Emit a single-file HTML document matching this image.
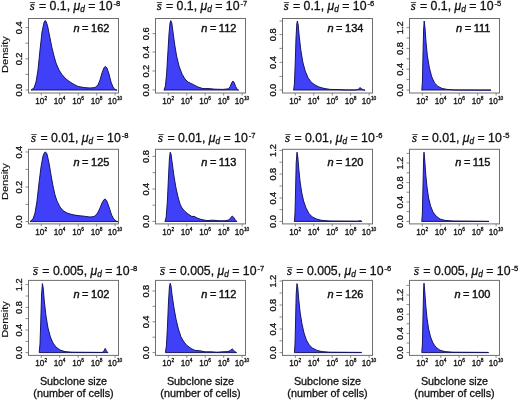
<!DOCTYPE html><html><head><meta charset="utf-8"><title>Subclone size density</title>
<style>html,body{margin:0;padding:0;background:#fff;}svg{display:block;}text{font-family:"Liberation Sans",Arial,sans-serif;fill:#111;stroke:#111;stroke-width:0.3px;}.it{font-style:italic;}.ser{font-family:"Liberation Serif","Times New Roman",serif;font-style:italic;}</style></head><body>
<svg width="520" height="400" viewBox="0 0 520 400">
<rect width="520" height="400" fill="#fff"/>
<g><path d="M31,90 L31,90 L34,88 L36,82 L38,70 L40,50 L42,32 L44,22.4 L45,20.6 L46,21.2 L47.6,26 L50,38 L52,48 L54,56 L56,63 L59,70 L62,74.6 L66,79 L70,82 L74,84.4 L78,86.4 L84,87.6 L90,88 L95,87.6 L98,85 L100,80 L102,73 L104,67.6 L105.4,66.4 L107,68 L109,74 L111,82 L113,87 L115,89.6 L117,90.2 L117,90 Z" fill="#4040f8" stroke="#10105c" stroke-width="0.95" stroke-linejoin="round"/><rect x="28.5" y="18.5" width="90" height="74.5" fill="none" stroke="#6e6e6e" stroke-width="1"/><line x1="41.3" y1="93" x2="41.3" y2="95.5" stroke="#6e6e6e" stroke-width="0.8"/><text x="41.2" y="103.5" font-size="8.2" text-anchor="middle">10<tspan dy="-3.7" font-size="4.8">2</tspan></text><line x1="59.75" y1="93" x2="59.75" y2="95.5" stroke="#6e6e6e" stroke-width="0.8"/><text x="59.65" y="103.5" font-size="8.2" text-anchor="middle">10<tspan dy="-3.7" font-size="4.8">4</tspan></text><line x1="78.2" y1="93" x2="78.2" y2="95.5" stroke="#6e6e6e" stroke-width="0.8"/><text x="78.1" y="103.5" font-size="8.2" text-anchor="middle">10<tspan dy="-3.7" font-size="4.8">6</tspan></text><line x1="96.65" y1="93" x2="96.65" y2="95.5" stroke="#6e6e6e" stroke-width="0.8"/><text x="96.55" y="103.5" font-size="8.2" text-anchor="middle">10<tspan dy="-3.7" font-size="4.8">8</tspan></text><line x1="115.1" y1="93" x2="115.1" y2="95.5" stroke="#6e6e6e" stroke-width="0.8"/><text x="115" y="103.5" font-size="8.2" text-anchor="middle">10<tspan dy="-3.7" font-size="4.8">10</tspan></text><line x1="25.5" y1="90" x2="28.5" y2="90" stroke="#6e6e6e" stroke-width="0.8"/><text transform="translate(21.8,90.2) rotate(-90) scale(1.12,1)" font-size="8.2" text-anchor="middle">0.0</text><line x1="25.5" y1="74.4" x2="28.5" y2="74.4" stroke="#6e6e6e" stroke-width="0.8"/><line x1="25.5" y1="58.8" x2="28.5" y2="58.8" stroke="#6e6e6e" stroke-width="0.8"/><text transform="translate(21.8,59) rotate(-90) scale(1.12,1)" font-size="8.2" text-anchor="middle">0.2</text><line x1="25.5" y1="43.2" x2="28.5" y2="43.2" stroke="#6e6e6e" stroke-width="0.8"/><line x1="25.5" y1="27.6" x2="28.5" y2="27.6" stroke="#6e6e6e" stroke-width="0.8"/><text transform="translate(21.8,27.8) rotate(-90) scale(1.12,1)" font-size="8.2" text-anchor="middle">0.4</text><text transform="translate(29.7,10) scale(1.0,1)" font-size="12.3" text-anchor="start"><tspan class="ser" font-size="12.8">s</tspan><tspan dx="0.9"> </tspan>= 0.1, <tspan class="it">μ</tspan><tspan class="it" font-size="8.2" dy="2.2">d</tspan><tspan dy="-2.2"> = 10</tspan><tspan font-size="7.6" dy="-4.4" dx="1">-8</tspan></text><text x="32.5" y="8.7" font-size="9" text-anchor="middle" class="mac">¯</text><text transform="translate(109.4,32.3) scale(1.07,1)" font-size="10.3" text-anchor="end" word-spacing="-0.5" style="stroke-width:0.4px"><tspan class="it">n</tspan> = 162</text><text transform="translate(7.5,54.6) rotate(-90) scale(1.16,1)" font-size="9.5" text-anchor="middle" style="stroke-width:0.15px">Density</text></g>
<g><path d="M164,90 L164,90.2 L165.4,86 L166.6,74 L167.8,54 L169,34 L170,23 L170.8,20.6 L171.8,23 L173,32 L174.6,44 L176.6,56 L179,66 L182,74 L185,79 L188,82 L193,84.4 L198,87 L203,88.6 L209,88.6 L215,89.2 L223,89.4 L228.6,88.8 L230.2,86.4 L231.8,82.6 L233,81 L234.2,82.6 L235.6,86.4 L237.2,89.4 L238.6,90.2 L238.6,90 Z" fill="#4040f8" stroke="#10105c" stroke-width="0.95" stroke-linejoin="round"/><rect x="155.5" y="18.5" width="90" height="74.5" fill="none" stroke="#6e6e6e" stroke-width="1"/><line x1="168.3" y1="93" x2="168.3" y2="95.5" stroke="#6e6e6e" stroke-width="0.8"/><text x="168.2" y="103.5" font-size="8.2" text-anchor="middle">10<tspan dy="-3.7" font-size="4.8">2</tspan></text><line x1="186.75" y1="93" x2="186.75" y2="95.5" stroke="#6e6e6e" stroke-width="0.8"/><text x="186.65" y="103.5" font-size="8.2" text-anchor="middle">10<tspan dy="-3.7" font-size="4.8">4</tspan></text><line x1="205.2" y1="93" x2="205.2" y2="95.5" stroke="#6e6e6e" stroke-width="0.8"/><text x="205.1" y="103.5" font-size="8.2" text-anchor="middle">10<tspan dy="-3.7" font-size="4.8">6</tspan></text><line x1="223.65" y1="93" x2="223.65" y2="95.5" stroke="#6e6e6e" stroke-width="0.8"/><text x="223.55" y="103.5" font-size="8.2" text-anchor="middle">10<tspan dy="-3.7" font-size="4.8">8</tspan></text><line x1="242.1" y1="93" x2="242.1" y2="95.5" stroke="#6e6e6e" stroke-width="0.8"/><text x="242" y="103.5" font-size="8.2" text-anchor="middle">10<tspan dy="-3.7" font-size="4.8">10</tspan></text><line x1="152.5" y1="90" x2="155.5" y2="90" stroke="#6e6e6e" stroke-width="0.8"/><text transform="translate(148.8,90.2) rotate(-90) scale(1.12,1)" font-size="8.2" text-anchor="middle">0.0</text><line x1="152.5" y1="71" x2="155.5" y2="71" stroke="#6e6e6e" stroke-width="0.8"/><text transform="translate(148.8,71.2) rotate(-90) scale(1.12,1)" font-size="8.2" text-anchor="middle">0.2</text><line x1="152.5" y1="52" x2="155.5" y2="52" stroke="#6e6e6e" stroke-width="0.8"/><text transform="translate(148.8,52.2) rotate(-90) scale(1.12,1)" font-size="8.2" text-anchor="middle">0.4</text><line x1="152.5" y1="33.6" x2="155.5" y2="33.6" stroke="#6e6e6e" stroke-width="0.8"/><text transform="translate(148.8,33.8) rotate(-90) scale(1.12,1)" font-size="8.2" text-anchor="middle">0.6</text><text transform="translate(156.7,10) scale(1.0,1)" font-size="12.3" text-anchor="start"><tspan class="ser" font-size="12.8">s</tspan><tspan dx="0.9"> </tspan>= 0.1, <tspan class="it">μ</tspan><tspan class="it" font-size="8.2" dy="2.2">d</tspan><tspan dy="-2.2"> = 10</tspan><tspan font-size="7.6" dy="-4.4" dx="1">-7</tspan></text><text x="159.5" y="8.7" font-size="9" text-anchor="middle" class="mac">¯</text><text transform="translate(236.4,32.3) scale(1.07,1)" font-size="10.3" text-anchor="end" word-spacing="-0.5" style="stroke-width:0.4px"><tspan class="it">n</tspan> = 112</text></g>
<g><path d="M293.6,90 L293.6,90.2 L294.4,84 L295.2,64 L296,38 L296.8,24 L297.4,21 L298.2,25 L299.2,36 L300.8,50 L302.8,62 L305.2,71 L308,77.6 L311,82 L315,85 L319,87 L324,88.4 L330,89.4 L338,89.6 L346,90 L356,90 L358.4,89.2 L360,87.6 L361.6,88.8 L363.6,90 L365,90.2 L365,90 Z" fill="#4040f8" stroke="#10105c" stroke-width="0.95" stroke-linejoin="round"/><rect x="282.5" y="18.5" width="90" height="74.5" fill="none" stroke="#6e6e6e" stroke-width="1"/><line x1="295.3" y1="93" x2="295.3" y2="95.5" stroke="#6e6e6e" stroke-width="0.8"/><text x="295.2" y="103.5" font-size="8.2" text-anchor="middle">10<tspan dy="-3.7" font-size="4.8">2</tspan></text><line x1="313.75" y1="93" x2="313.75" y2="95.5" stroke="#6e6e6e" stroke-width="0.8"/><text x="313.65" y="103.5" font-size="8.2" text-anchor="middle">10<tspan dy="-3.7" font-size="4.8">4</tspan></text><line x1="332.2" y1="93" x2="332.2" y2="95.5" stroke="#6e6e6e" stroke-width="0.8"/><text x="332.1" y="103.5" font-size="8.2" text-anchor="middle">10<tspan dy="-3.7" font-size="4.8">6</tspan></text><line x1="350.65" y1="93" x2="350.65" y2="95.5" stroke="#6e6e6e" stroke-width="0.8"/><text x="350.55" y="103.5" font-size="8.2" text-anchor="middle">10<tspan dy="-3.7" font-size="4.8">8</tspan></text><line x1="369.1" y1="93" x2="369.1" y2="95.5" stroke="#6e6e6e" stroke-width="0.8"/><text x="369" y="103.5" font-size="8.2" text-anchor="middle">10<tspan dy="-3.7" font-size="4.8">10</tspan></text><line x1="279.5" y1="90" x2="282.5" y2="90" stroke="#6e6e6e" stroke-width="0.8"/><text transform="translate(275.8,90.2) rotate(-90) scale(1.12,1)" font-size="8.2" text-anchor="middle">0.0</text><line x1="279.5" y1="76.4" x2="282.5" y2="76.4" stroke="#6e6e6e" stroke-width="0.8"/><line x1="279.5" y1="62.4" x2="282.5" y2="62.4" stroke="#6e6e6e" stroke-width="0.8"/><text transform="translate(275.8,62.6) rotate(-90) scale(1.12,1)" font-size="8.2" text-anchor="middle">0.4</text><line x1="279.5" y1="48.4" x2="282.5" y2="48.4" stroke="#6e6e6e" stroke-width="0.8"/><line x1="279.5" y1="34.6" x2="282.5" y2="34.6" stroke="#6e6e6e" stroke-width="0.8"/><text transform="translate(275.8,34.8) rotate(-90) scale(1.12,1)" font-size="8.2" text-anchor="middle">0.8</text><line x1="279.5" y1="21" x2="282.5" y2="21" stroke="#6e6e6e" stroke-width="0.8"/><text transform="translate(283.7,10) scale(1.0,1)" font-size="12.3" text-anchor="start"><tspan class="ser" font-size="12.8">s</tspan><tspan dx="0.9"> </tspan>= 0.1, <tspan class="it">μ</tspan><tspan class="it" font-size="8.2" dy="2.2">d</tspan><tspan dy="-2.2"> = 10</tspan><tspan font-size="7.6" dy="-4.4" dx="1">-6</tspan></text><text x="286.5" y="8.7" font-size="9" text-anchor="middle" class="mac">¯</text><text transform="translate(363.4,32.3) scale(1.07,1)" font-size="10.3" text-anchor="end" word-spacing="-0.5" style="stroke-width:0.4px"><tspan class="it">n</tspan> = 134</text></g>
<g><path d="M421.8,90 L421.8,90.2 L422.4,82 L423,54 L423.6,30 L424.2,21 L425,28 L426,42 L427.4,56 L429.4,68 L431.8,77 L434.6,83 L438,86.4 L442,88.4 L447,89.4 L455,90 L491,90.2 L491,90 Z" fill="#4040f8" stroke="#10105c" stroke-width="0.95" stroke-linejoin="round"/><rect x="409.5" y="18.5" width="90" height="74.5" fill="none" stroke="#6e6e6e" stroke-width="1"/><line x1="422.3" y1="93" x2="422.3" y2="95.5" stroke="#6e6e6e" stroke-width="0.8"/><text x="422.2" y="103.5" font-size="8.2" text-anchor="middle">10<tspan dy="-3.7" font-size="4.8">2</tspan></text><line x1="440.75" y1="93" x2="440.75" y2="95.5" stroke="#6e6e6e" stroke-width="0.8"/><text x="440.65" y="103.5" font-size="8.2" text-anchor="middle">10<tspan dy="-3.7" font-size="4.8">4</tspan></text><line x1="459.2" y1="93" x2="459.2" y2="95.5" stroke="#6e6e6e" stroke-width="0.8"/><text x="459.1" y="103.5" font-size="8.2" text-anchor="middle">10<tspan dy="-3.7" font-size="4.8">6</tspan></text><line x1="477.65" y1="93" x2="477.65" y2="95.5" stroke="#6e6e6e" stroke-width="0.8"/><text x="477.55" y="103.5" font-size="8.2" text-anchor="middle">10<tspan dy="-3.7" font-size="4.8">8</tspan></text><line x1="496.1" y1="93" x2="496.1" y2="95.5" stroke="#6e6e6e" stroke-width="0.8"/><text x="496" y="103.5" font-size="8.2" text-anchor="middle">10<tspan dy="-3.7" font-size="4.8">10</tspan></text><line x1="406.5" y1="90" x2="409.5" y2="90" stroke="#6e6e6e" stroke-width="0.8"/><text transform="translate(402.8,90.2) rotate(-90) scale(1.12,1)" font-size="8.2" text-anchor="middle">0.0</text><line x1="406.5" y1="79.6" x2="409.5" y2="79.6" stroke="#6e6e6e" stroke-width="0.8"/><line x1="406.5" y1="69.2" x2="409.5" y2="69.2" stroke="#6e6e6e" stroke-width="0.8"/><text transform="translate(402.8,69.4) rotate(-90) scale(1.12,1)" font-size="8.2" text-anchor="middle">0.4</text><line x1="406.5" y1="58.8" x2="409.5" y2="58.8" stroke="#6e6e6e" stroke-width="0.8"/><line x1="406.5" y1="48.4" x2="409.5" y2="48.4" stroke="#6e6e6e" stroke-width="0.8"/><text transform="translate(402.8,48.6) rotate(-90) scale(1.12,1)" font-size="8.2" text-anchor="middle">0.8</text><line x1="406.5" y1="38" x2="409.5" y2="38" stroke="#6e6e6e" stroke-width="0.8"/><line x1="406.5" y1="27.6" x2="409.5" y2="27.6" stroke="#6e6e6e" stroke-width="0.8"/><text transform="translate(402.8,27.8) rotate(-90) scale(1.12,1)" font-size="8.2" text-anchor="middle">1.2</text><text transform="translate(410.7,10) scale(1.0,1)" font-size="12.3" text-anchor="start"><tspan class="ser" font-size="12.8">s</tspan><tspan dx="0.9"> </tspan>= 0.1, <tspan class="it">μ</tspan><tspan class="it" font-size="8.2" dy="2.2">d</tspan><tspan dy="-2.2"> = 10</tspan><tspan font-size="7.6" dy="-4.4" dx="1">-5</tspan></text><text x="413.5" y="8.7" font-size="9" text-anchor="middle" class="mac">¯</text><text transform="translate(490.4,32.3) scale(1.07,1)" font-size="10.3" text-anchor="end" word-spacing="-0.5" style="stroke-width:0.4px"><tspan class="it">n</tspan> = 111</text></g>
<g><path d="M30,221.6 L30,221.6 L33,219 L35,213 L37,201 L39,183 L41,167 L43,156 L44.6,152.4 L45.6,152 L47,154 L49,163 L51,175 L53,186 L55,195 L57,201 L60,207 L63,210.6 L67,213 L72,214.6 L78,215.6 L84,216.2 L90,217 L94,216.6 L97,214 L99.6,209 L102,203 L104,199.6 L105.2,199 L106.8,201 L109,207 L111.6,215 L114,219.4 L116.4,221.2 L118,221.6 L118,221.6 Z" fill="#4040f8" stroke="#10105c" stroke-width="0.95" stroke-linejoin="round"/><rect x="28.5" y="149.3" width="90" height="74.6" fill="none" stroke="#6e6e6e" stroke-width="1"/><line x1="41.3" y1="223.9" x2="41.3" y2="226.4" stroke="#6e6e6e" stroke-width="0.8"/><text x="41.2" y="235" font-size="8.2" text-anchor="middle">10<tspan dy="-3.7" font-size="4.8">2</tspan></text><line x1="59.75" y1="223.9" x2="59.75" y2="226.4" stroke="#6e6e6e" stroke-width="0.8"/><text x="59.65" y="235" font-size="8.2" text-anchor="middle">10<tspan dy="-3.7" font-size="4.8">4</tspan></text><line x1="78.2" y1="223.9" x2="78.2" y2="226.4" stroke="#6e6e6e" stroke-width="0.8"/><text x="78.1" y="235" font-size="8.2" text-anchor="middle">10<tspan dy="-3.7" font-size="4.8">6</tspan></text><line x1="96.65" y1="223.9" x2="96.65" y2="226.4" stroke="#6e6e6e" stroke-width="0.8"/><text x="96.55" y="235" font-size="8.2" text-anchor="middle">10<tspan dy="-3.7" font-size="4.8">8</tspan></text><line x1="115.1" y1="223.9" x2="115.1" y2="226.4" stroke="#6e6e6e" stroke-width="0.8"/><text x="115" y="235" font-size="8.2" text-anchor="middle">10<tspan dy="-3.7" font-size="4.8">10</tspan></text><line x1="25.5" y1="221.6" x2="28.5" y2="221.6" stroke="#6e6e6e" stroke-width="0.8"/><text transform="translate(21.8,221.8) rotate(-90) scale(1.12,1)" font-size="8.2" text-anchor="middle">0.0</text><line x1="25.5" y1="204.4" x2="28.5" y2="204.4" stroke="#6e6e6e" stroke-width="0.8"/><line x1="25.5" y1="187" x2="28.5" y2="187" stroke="#6e6e6e" stroke-width="0.8"/><text transform="translate(21.8,187.2) rotate(-90) scale(1.12,1)" font-size="8.2" text-anchor="middle">0.2</text><line x1="25.5" y1="169.4" x2="28.5" y2="169.4" stroke="#6e6e6e" stroke-width="0.8"/><line x1="25.5" y1="152" x2="28.5" y2="152" stroke="#6e6e6e" stroke-width="0.8"/><text transform="translate(21.8,152.2) rotate(-90) scale(1.12,1)" font-size="8.2" text-anchor="middle">0.4</text><text transform="translate(31.1,141.9) scale(1.0,1)" font-size="12.3" text-anchor="start"><tspan class="ser" font-size="12.8">s</tspan><tspan dx="0.9"> </tspan>= 0.01, <tspan class="it">μ</tspan><tspan class="it" font-size="8.2" dy="2.2">d</tspan><tspan dy="-2.2"> = 10</tspan><tspan font-size="7.6" dy="-4.4" dx="1">-8</tspan></text><text x="33.9" y="140.6" font-size="9" text-anchor="middle" class="mac">¯</text><text transform="translate(109.4,166.3) scale(1.07,1)" font-size="10.3" text-anchor="end" word-spacing="-0.5" style="stroke-width:0.4px"><tspan class="it">n</tspan> = 125</text><text transform="translate(7.5,181.7) rotate(-90) scale(1.16,1)" font-size="9.5" text-anchor="middle" style="stroke-width:0.15px">Density</text></g>
<g><path d="M165,221.4 L165,221.6 L166.2,217 L167.4,201 L168.4,179 L169.4,159 L170.2,152.2 L171,154 L172.2,163 L173.8,175 L175.8,187 L178,197 L180,204 L182,208 L185,211.4 L188,214 L192,216.6 L194,216.2 L197,218 L201,219.4 L207,220.6 L213,220.2 L219,220.8 L225,220.8 L228.6,220 L230.6,218 L232.2,216 L233.8,217.4 L235.4,220.2 L237,221.6 L237,221.4 Z" fill="#4040f8" stroke="#10105c" stroke-width="0.95" stroke-linejoin="round"/><rect x="155.5" y="149.3" width="90" height="74.6" fill="none" stroke="#6e6e6e" stroke-width="1"/><line x1="168.3" y1="223.9" x2="168.3" y2="226.4" stroke="#6e6e6e" stroke-width="0.8"/><text x="168.2" y="235" font-size="8.2" text-anchor="middle">10<tspan dy="-3.7" font-size="4.8">2</tspan></text><line x1="186.75" y1="223.9" x2="186.75" y2="226.4" stroke="#6e6e6e" stroke-width="0.8"/><text x="186.65" y="235" font-size="8.2" text-anchor="middle">10<tspan dy="-3.7" font-size="4.8">4</tspan></text><line x1="205.2" y1="223.9" x2="205.2" y2="226.4" stroke="#6e6e6e" stroke-width="0.8"/><text x="205.1" y="235" font-size="8.2" text-anchor="middle">10<tspan dy="-3.7" font-size="4.8">6</tspan></text><line x1="223.65" y1="223.9" x2="223.65" y2="226.4" stroke="#6e6e6e" stroke-width="0.8"/><text x="223.55" y="235" font-size="8.2" text-anchor="middle">10<tspan dy="-3.7" font-size="4.8">8</tspan></text><line x1="242.1" y1="223.9" x2="242.1" y2="226.4" stroke="#6e6e6e" stroke-width="0.8"/><text x="242" y="235" font-size="8.2" text-anchor="middle">10<tspan dy="-3.7" font-size="4.8">10</tspan></text><line x1="152.5" y1="221.4" x2="155.5" y2="221.4" stroke="#6e6e6e" stroke-width="0.8"/><text transform="translate(148.8,221.6) rotate(-90) scale(1.12,1)" font-size="8.2" text-anchor="middle">0.0</text><line x1="152.5" y1="205.2" x2="155.5" y2="205.2" stroke="#6e6e6e" stroke-width="0.8"/><line x1="152.5" y1="189" x2="155.5" y2="189" stroke="#6e6e6e" stroke-width="0.8"/><text transform="translate(148.8,189.2) rotate(-90) scale(1.12,1)" font-size="8.2" text-anchor="middle">0.4</text><line x1="152.5" y1="172.6" x2="155.5" y2="172.6" stroke="#6e6e6e" stroke-width="0.8"/><line x1="152.5" y1="156.4" x2="155.5" y2="156.4" stroke="#6e6e6e" stroke-width="0.8"/><text transform="translate(148.8,156.6) rotate(-90) scale(1.12,1)" font-size="8.2" text-anchor="middle">0.8</text><text transform="translate(158.1,141.9) scale(1.0,1)" font-size="12.3" text-anchor="start"><tspan class="ser" font-size="12.8">s</tspan><tspan dx="0.9"> </tspan>= 0.01, <tspan class="it">μ</tspan><tspan class="it" font-size="8.2" dy="2.2">d</tspan><tspan dy="-2.2"> = 10</tspan><tspan font-size="7.6" dy="-4.4" dx="1">-7</tspan></text><text x="160.9" y="140.6" font-size="9" text-anchor="middle" class="mac">¯</text><text transform="translate(236.4,166.3) scale(1.07,1)" font-size="10.3" text-anchor="end" word-spacing="-0.5" style="stroke-width:0.4px"><tspan class="it">n</tspan> = 113</text></g>
<g><path d="M294.4,221.4 L294.4,221.6 L295,213 L295.6,189 L296.2,163 L297,152.2 L297.8,157 L298.8,169 L300,181 L301.6,192 L303.6,201 L306,208 L309,213.6 L312.4,217 L317,219.2 L322,220.4 L330,221 L358,221.2 L360.4,220.6 L362,221.6 L362,221.4 Z" fill="#4040f8" stroke="#10105c" stroke-width="0.95" stroke-linejoin="round"/><rect x="282.5" y="149.3" width="90" height="74.6" fill="none" stroke="#6e6e6e" stroke-width="1"/><line x1="295.3" y1="223.9" x2="295.3" y2="226.4" stroke="#6e6e6e" stroke-width="0.8"/><text x="295.2" y="235" font-size="8.2" text-anchor="middle">10<tspan dy="-3.7" font-size="4.8">2</tspan></text><line x1="313.75" y1="223.9" x2="313.75" y2="226.4" stroke="#6e6e6e" stroke-width="0.8"/><text x="313.65" y="235" font-size="8.2" text-anchor="middle">10<tspan dy="-3.7" font-size="4.8">4</tspan></text><line x1="332.2" y1="223.9" x2="332.2" y2="226.4" stroke="#6e6e6e" stroke-width="0.8"/><text x="332.1" y="235" font-size="8.2" text-anchor="middle">10<tspan dy="-3.7" font-size="4.8">6</tspan></text><line x1="350.65" y1="223.9" x2="350.65" y2="226.4" stroke="#6e6e6e" stroke-width="0.8"/><text x="350.55" y="235" font-size="8.2" text-anchor="middle">10<tspan dy="-3.7" font-size="4.8">8</tspan></text><line x1="369.1" y1="223.9" x2="369.1" y2="226.4" stroke="#6e6e6e" stroke-width="0.8"/><text x="369" y="235" font-size="8.2" text-anchor="middle">10<tspan dy="-3.7" font-size="4.8">10</tspan></text><line x1="279.5" y1="221.4" x2="282.5" y2="221.4" stroke="#6e6e6e" stroke-width="0.8"/><text transform="translate(275.8,221.6) rotate(-90) scale(1.12,1)" font-size="8.2" text-anchor="middle">0.0</text><line x1="279.5" y1="209.6" x2="282.5" y2="209.6" stroke="#6e6e6e" stroke-width="0.8"/><line x1="279.5" y1="198" x2="282.5" y2="198" stroke="#6e6e6e" stroke-width="0.8"/><text transform="translate(275.8,198.2) rotate(-90) scale(1.12,1)" font-size="8.2" text-anchor="middle">0.4</text><line x1="279.5" y1="186" x2="282.5" y2="186" stroke="#6e6e6e" stroke-width="0.8"/><line x1="279.5" y1="174" x2="282.5" y2="174" stroke="#6e6e6e" stroke-width="0.8"/><text transform="translate(275.8,174.2) rotate(-90) scale(1.12,1)" font-size="8.2" text-anchor="middle">0.8</text><line x1="279.5" y1="162.2" x2="282.5" y2="162.2" stroke="#6e6e6e" stroke-width="0.8"/><line x1="279.5" y1="150.4" x2="282.5" y2="150.4" stroke="#6e6e6e" stroke-width="0.8"/><text transform="translate(275.8,150.6) rotate(-90) scale(1.12,1)" font-size="8.2" text-anchor="middle">1.2</text><text transform="translate(285.1,141.9) scale(1.0,1)" font-size="12.3" text-anchor="start"><tspan class="ser" font-size="12.8">s</tspan><tspan dx="0.9"> </tspan>= 0.01, <tspan class="it">μ</tspan><tspan class="it" font-size="8.2" dy="2.2">d</tspan><tspan dy="-2.2"> = 10</tspan><tspan font-size="7.6" dy="-4.4" dx="1">-6</tspan></text><text x="287.9" y="140.6" font-size="9" text-anchor="middle" class="mac">¯</text><text transform="translate(363.4,166.3) scale(1.07,1)" font-size="10.3" text-anchor="end" word-spacing="-0.5" style="stroke-width:0.4px"><tspan class="it">n</tspan> = 120</text></g>
<g><path d="M421.8,221.4 L421.8,221.6 L422.4,213 L423,185 L423.6,159 L424,152.2 L424.8,161 L425.8,175 L427,187 L428.6,198 L430.6,206 L433,212 L436,216 L440,219 L445,220.4 L453,221 L489,221.4 L489,221.4 Z" fill="#4040f8" stroke="#10105c" stroke-width="0.95" stroke-linejoin="round"/><rect x="409.5" y="149.3" width="90" height="74.6" fill="none" stroke="#6e6e6e" stroke-width="1"/><line x1="422.3" y1="223.9" x2="422.3" y2="226.4" stroke="#6e6e6e" stroke-width="0.8"/><text x="422.2" y="235" font-size="8.2" text-anchor="middle">10<tspan dy="-3.7" font-size="4.8">2</tspan></text><line x1="440.75" y1="223.9" x2="440.75" y2="226.4" stroke="#6e6e6e" stroke-width="0.8"/><text x="440.65" y="235" font-size="8.2" text-anchor="middle">10<tspan dy="-3.7" font-size="4.8">4</tspan></text><line x1="459.2" y1="223.9" x2="459.2" y2="226.4" stroke="#6e6e6e" stroke-width="0.8"/><text x="459.1" y="235" font-size="8.2" text-anchor="middle">10<tspan dy="-3.7" font-size="4.8">6</tspan></text><line x1="477.65" y1="223.9" x2="477.65" y2="226.4" stroke="#6e6e6e" stroke-width="0.8"/><text x="477.55" y="235" font-size="8.2" text-anchor="middle">10<tspan dy="-3.7" font-size="4.8">8</tspan></text><line x1="496.1" y1="223.9" x2="496.1" y2="226.4" stroke="#6e6e6e" stroke-width="0.8"/><text x="496" y="235" font-size="8.2" text-anchor="middle">10<tspan dy="-3.7" font-size="4.8">10</tspan></text><line x1="406.5" y1="221.4" x2="409.5" y2="221.4" stroke="#6e6e6e" stroke-width="0.8"/><text transform="translate(402.8,221.6) rotate(-90) scale(1.12,1)" font-size="8.2" text-anchor="middle">0.0</text><line x1="406.5" y1="211.6" x2="409.5" y2="211.6" stroke="#6e6e6e" stroke-width="0.8"/><line x1="406.5" y1="202" x2="409.5" y2="202" stroke="#6e6e6e" stroke-width="0.8"/><text transform="translate(402.8,202.2) rotate(-90) scale(1.12,1)" font-size="8.2" text-anchor="middle">0.4</text><line x1="406.5" y1="192.2" x2="409.5" y2="192.2" stroke="#6e6e6e" stroke-width="0.8"/><line x1="406.5" y1="182.6" x2="409.5" y2="182.6" stroke="#6e6e6e" stroke-width="0.8"/><text transform="translate(402.8,182.8) rotate(-90) scale(1.12,1)" font-size="8.2" text-anchor="middle">0.8</text><line x1="406.5" y1="172.8" x2="409.5" y2="172.8" stroke="#6e6e6e" stroke-width="0.8"/><line x1="406.5" y1="163" x2="409.5" y2="163" stroke="#6e6e6e" stroke-width="0.8"/><text transform="translate(402.8,163.2) rotate(-90) scale(1.12,1)" font-size="8.2" text-anchor="middle">1.2</text><line x1="406.5" y1="153.4" x2="409.5" y2="153.4" stroke="#6e6e6e" stroke-width="0.8"/><text transform="translate(412.1,141.9) scale(1.0,1)" font-size="12.3" text-anchor="start"><tspan class="ser" font-size="12.8">s</tspan><tspan dx="0.9"> </tspan>= 0.01, <tspan class="it">μ</tspan><tspan class="it" font-size="8.2" dy="2.2">d</tspan><tspan dy="-2.2"> = 10</tspan><tspan font-size="7.6" dy="-4.4" dx="1">-5</tspan></text><text x="414.9" y="140.6" font-size="9" text-anchor="middle" class="mac">¯</text><text transform="translate(490.4,166.3) scale(1.07,1)" font-size="10.3" text-anchor="end" word-spacing="-0.5" style="stroke-width:0.4px"><tspan class="it">n</tspan> = 115</text></g>
<g><path d="M39.2,352.6 L39.2,352.6 L40,344 L40.8,320 L41.6,294 L42.4,283.6 L43.2,288 L44.4,302 L46,316 L48,328 L50.4,337 L53,343 L56,347 L60,350 L65,351.6 L72,352.2 L102,352.4 L103.6,351.6 L105.2,348.4 L106.6,351.2 L108,352.6 L108,352.6 Z" fill="#4040f8" stroke="#10105c" stroke-width="0.95" stroke-linejoin="round"/><rect x="28.5" y="280.4" width="90" height="75" fill="none" stroke="#6e6e6e" stroke-width="1"/><line x1="41.3" y1="355.4" x2="41.3" y2="357.9" stroke="#6e6e6e" stroke-width="0.8"/><text x="41.2" y="366" font-size="8.2" text-anchor="middle">10<tspan dy="-3.7" font-size="4.8">2</tspan></text><line x1="59.75" y1="355.4" x2="59.75" y2="357.9" stroke="#6e6e6e" stroke-width="0.8"/><text x="59.65" y="366" font-size="8.2" text-anchor="middle">10<tspan dy="-3.7" font-size="4.8">4</tspan></text><line x1="78.2" y1="355.4" x2="78.2" y2="357.9" stroke="#6e6e6e" stroke-width="0.8"/><text x="78.1" y="366" font-size="8.2" text-anchor="middle">10<tspan dy="-3.7" font-size="4.8">6</tspan></text><line x1="96.65" y1="355.4" x2="96.65" y2="357.9" stroke="#6e6e6e" stroke-width="0.8"/><text x="96.55" y="366" font-size="8.2" text-anchor="middle">10<tspan dy="-3.7" font-size="4.8">8</tspan></text><line x1="115.1" y1="355.4" x2="115.1" y2="357.9" stroke="#6e6e6e" stroke-width="0.8"/><text x="115" y="366" font-size="8.2" text-anchor="middle">10<tspan dy="-3.7" font-size="4.8">10</tspan></text><line x1="25.5" y1="352.6" x2="28.5" y2="352.6" stroke="#6e6e6e" stroke-width="0.8"/><text transform="translate(21.8,352.8) rotate(-90) scale(1.12,1)" font-size="8.2" text-anchor="middle">0.0</text><line x1="25.5" y1="341.4" x2="28.5" y2="341.4" stroke="#6e6e6e" stroke-width="0.8"/><line x1="25.5" y1="330" x2="28.5" y2="330" stroke="#6e6e6e" stroke-width="0.8"/><text transform="translate(21.8,330.2) rotate(-90) scale(1.12,1)" font-size="8.2" text-anchor="middle">0.4</text><line x1="25.5" y1="318.6" x2="28.5" y2="318.6" stroke="#6e6e6e" stroke-width="0.8"/><line x1="25.5" y1="307.4" x2="28.5" y2="307.4" stroke="#6e6e6e" stroke-width="0.8"/><text transform="translate(21.8,307.6) rotate(-90) scale(1.12,1)" font-size="8.2" text-anchor="middle">0.8</text><line x1="25.5" y1="296" x2="28.5" y2="296" stroke="#6e6e6e" stroke-width="0.8"/><line x1="25.5" y1="284.6" x2="28.5" y2="284.6" stroke="#6e6e6e" stroke-width="0.8"/><text transform="translate(21.8,284.8) rotate(-90) scale(1.12,1)" font-size="8.2" text-anchor="middle">1.2</text><text transform="translate(33,275) scale(1.0,1)" font-size="12.3" text-anchor="start"><tspan class="ser" font-size="12.8">s</tspan><tspan dx="0.9"> </tspan>= 0.005, <tspan class="it">μ</tspan><tspan class="it" font-size="8.2" dy="2.2">d</tspan><tspan dy="-2.2"> = 10</tspan><tspan font-size="7.6" dy="-4.4" dx="1">-8</tspan></text><text x="35.8" y="273.7" font-size="9" text-anchor="middle" class="mac">¯</text><text transform="translate(109.4,298.2) scale(1.07,1)" font-size="10.3" text-anchor="end" word-spacing="-0.5" style="stroke-width:0.4px"><tspan class="it">n</tspan> = 102</text><text transform="translate(7.5,319.5) rotate(-90) scale(1.16,1)" font-size="9.5" text-anchor="middle" style="stroke-width:0.15px">Density</text><text x="73.5" y="385" font-size="10.8" text-anchor="middle">Subclone size</text><text x="73.5" y="397" font-size="10.8" text-anchor="middle">(number of cells)</text></g>
<g><path d="M165.4,352.6 L165.4,352.6 L166.4,346 L167.4,328 L168.4,304 L169.4,287 L170.2,283.2 L171,286 L172.2,296 L174,308 L176,319 L178.4,329 L181,337 L184,342 L187,345.6 L191,348.4 L195,350.4 L200,350.8 L205,351.8 L211,351.8 L217,352.2 L223,351.8 L228,351.6 L230.4,350.4 L232.2,348.8 L233.8,350.4 L235.4,352 L236.6,352.6 L236.6,352.6 Z" fill="#4040f8" stroke="#10105c" stroke-width="0.95" stroke-linejoin="round"/><rect x="155.5" y="280.4" width="90" height="75" fill="none" stroke="#6e6e6e" stroke-width="1"/><line x1="168.3" y1="355.4" x2="168.3" y2="357.9" stroke="#6e6e6e" stroke-width="0.8"/><text x="168.2" y="366" font-size="8.2" text-anchor="middle">10<tspan dy="-3.7" font-size="4.8">2</tspan></text><line x1="186.75" y1="355.4" x2="186.75" y2="357.9" stroke="#6e6e6e" stroke-width="0.8"/><text x="186.65" y="366" font-size="8.2" text-anchor="middle">10<tspan dy="-3.7" font-size="4.8">4</tspan></text><line x1="205.2" y1="355.4" x2="205.2" y2="357.9" stroke="#6e6e6e" stroke-width="0.8"/><text x="205.1" y="366" font-size="8.2" text-anchor="middle">10<tspan dy="-3.7" font-size="4.8">6</tspan></text><line x1="223.65" y1="355.4" x2="223.65" y2="357.9" stroke="#6e6e6e" stroke-width="0.8"/><text x="223.55" y="366" font-size="8.2" text-anchor="middle">10<tspan dy="-3.7" font-size="4.8">8</tspan></text><line x1="242.1" y1="355.4" x2="242.1" y2="357.9" stroke="#6e6e6e" stroke-width="0.8"/><text x="242" y="366" font-size="8.2" text-anchor="middle">10<tspan dy="-3.7" font-size="4.8">10</tspan></text><line x1="152.5" y1="352.6" x2="155.5" y2="352.6" stroke="#6e6e6e" stroke-width="0.8"/><text transform="translate(148.8,352.8) rotate(-90) scale(1.12,1)" font-size="8.2" text-anchor="middle">0.0</text><line x1="152.5" y1="337.2" x2="155.5" y2="337.2" stroke="#6e6e6e" stroke-width="0.8"/><line x1="152.5" y1="321.8" x2="155.5" y2="321.8" stroke="#6e6e6e" stroke-width="0.8"/><text transform="translate(148.8,322) rotate(-90) scale(1.12,1)" font-size="8.2" text-anchor="middle">0.4</text><line x1="152.5" y1="306.4" x2="155.5" y2="306.4" stroke="#6e6e6e" stroke-width="0.8"/><line x1="152.5" y1="291" x2="155.5" y2="291" stroke="#6e6e6e" stroke-width="0.8"/><text transform="translate(148.8,291.2) rotate(-90) scale(1.12,1)" font-size="8.2" text-anchor="middle">0.8</text><text transform="translate(160,275) scale(1.0,1)" font-size="12.3" text-anchor="start"><tspan class="ser" font-size="12.8">s</tspan><tspan dx="0.9"> </tspan>= 0.005, <tspan class="it">μ</tspan><tspan class="it" font-size="8.2" dy="2.2">d</tspan><tspan dy="-2.2"> = 10</tspan><tspan font-size="7.6" dy="-4.4" dx="1">-7</tspan></text><text x="162.8" y="273.7" font-size="9" text-anchor="middle" class="mac">¯</text><text transform="translate(236.4,298.2) scale(1.07,1)" font-size="10.3" text-anchor="end" word-spacing="-0.5" style="stroke-width:0.4px"><tspan class="it">n</tspan> = 112</text><text x="200.5" y="385" font-size="10.8" text-anchor="middle">Subclone size</text><text x="200.5" y="397" font-size="10.8" text-anchor="middle">(number of cells)</text></g>
<g><path d="M294.4,352.6 L294.4,352.6 L295,344 L295.6,320 L296.2,294 L297,283.6 L297.8,288 L298.8,300 L300.2,313 L302,324 L304,333 L306.4,340 L309.2,345 L312.4,348 L317,350.4 L322,351.6 L330,352.2 L361.6,352.4 L361.6,352.6 Z" fill="#4040f8" stroke="#10105c" stroke-width="0.95" stroke-linejoin="round"/><rect x="282.5" y="280.4" width="90" height="75" fill="none" stroke="#6e6e6e" stroke-width="1"/><line x1="295.3" y1="355.4" x2="295.3" y2="357.9" stroke="#6e6e6e" stroke-width="0.8"/><text x="295.2" y="366" font-size="8.2" text-anchor="middle">10<tspan dy="-3.7" font-size="4.8">2</tspan></text><line x1="313.75" y1="355.4" x2="313.75" y2="357.9" stroke="#6e6e6e" stroke-width="0.8"/><text x="313.65" y="366" font-size="8.2" text-anchor="middle">10<tspan dy="-3.7" font-size="4.8">4</tspan></text><line x1="332.2" y1="355.4" x2="332.2" y2="357.9" stroke="#6e6e6e" stroke-width="0.8"/><text x="332.1" y="366" font-size="8.2" text-anchor="middle">10<tspan dy="-3.7" font-size="4.8">6</tspan></text><line x1="350.65" y1="355.4" x2="350.65" y2="357.9" stroke="#6e6e6e" stroke-width="0.8"/><text x="350.55" y="366" font-size="8.2" text-anchor="middle">10<tspan dy="-3.7" font-size="4.8">8</tspan></text><line x1="369.1" y1="355.4" x2="369.1" y2="357.9" stroke="#6e6e6e" stroke-width="0.8"/><text x="369" y="366" font-size="8.2" text-anchor="middle">10<tspan dy="-3.7" font-size="4.8">10</tspan></text><line x1="279.5" y1="352.6" x2="282.5" y2="352.6" stroke="#6e6e6e" stroke-width="0.8"/><text transform="translate(275.8,352.8) rotate(-90) scale(1.12,1)" font-size="8.2" text-anchor="middle">0.0</text><line x1="279.5" y1="340.8" x2="282.5" y2="340.8" stroke="#6e6e6e" stroke-width="0.8"/><line x1="279.5" y1="329" x2="282.5" y2="329" stroke="#6e6e6e" stroke-width="0.8"/><text transform="translate(275.8,329.2) rotate(-90) scale(1.12,1)" font-size="8.2" text-anchor="middle">0.4</text><line x1="279.5" y1="317" x2="282.5" y2="317" stroke="#6e6e6e" stroke-width="0.8"/><line x1="279.5" y1="305" x2="282.5" y2="305" stroke="#6e6e6e" stroke-width="0.8"/><text transform="translate(275.8,305.2) rotate(-90) scale(1.12,1)" font-size="8.2" text-anchor="middle">0.8</text><line x1="279.5" y1="293" x2="282.5" y2="293" stroke="#6e6e6e" stroke-width="0.8"/><line x1="279.5" y1="281" x2="282.5" y2="281" stroke="#6e6e6e" stroke-width="0.8"/><text transform="translate(275.8,281.2) rotate(-90) scale(1.12,1)" font-size="8.2" text-anchor="middle">1.2</text><text transform="translate(287,275) scale(1.0,1)" font-size="12.3" text-anchor="start"><tspan class="ser" font-size="12.8">s</tspan><tspan dx="0.9"> </tspan>= 0.005, <tspan class="it">μ</tspan><tspan class="it" font-size="8.2" dy="2.2">d</tspan><tspan dy="-2.2"> = 10</tspan><tspan font-size="7.6" dy="-4.4" dx="1">-6</tspan></text><text x="289.8" y="273.7" font-size="9" text-anchor="middle" class="mac">¯</text><text transform="translate(363.4,298.2) scale(1.07,1)" font-size="10.3" text-anchor="end" word-spacing="-0.5" style="stroke-width:0.4px"><tspan class="it">n</tspan> = 126</text><text x="327.5" y="385" font-size="10.8" text-anchor="middle">Subclone size</text><text x="327.5" y="397" font-size="10.8" text-anchor="middle">(number of cells)</text></g>
<g><path d="M421.8,352.6 L421.8,352.6 L422.4,344 L423,316 L423.6,290 L424,283.2 L424.8,292 L425.8,306 L427,318 L428.6,329 L430.6,337 L433,343 L436,347.4 L440,350.2 L445,351.6 L453,352.2 L488.6,352.4 L488.6,352.6 Z" fill="#4040f8" stroke="#10105c" stroke-width="0.95" stroke-linejoin="round"/><rect x="409.5" y="280.4" width="90" height="75" fill="none" stroke="#6e6e6e" stroke-width="1"/><line x1="422.3" y1="355.4" x2="422.3" y2="357.9" stroke="#6e6e6e" stroke-width="0.8"/><text x="422.2" y="366" font-size="8.2" text-anchor="middle">10<tspan dy="-3.7" font-size="4.8">2</tspan></text><line x1="440.75" y1="355.4" x2="440.75" y2="357.9" stroke="#6e6e6e" stroke-width="0.8"/><text x="440.65" y="366" font-size="8.2" text-anchor="middle">10<tspan dy="-3.7" font-size="4.8">4</tspan></text><line x1="459.2" y1="355.4" x2="459.2" y2="357.9" stroke="#6e6e6e" stroke-width="0.8"/><text x="459.1" y="366" font-size="8.2" text-anchor="middle">10<tspan dy="-3.7" font-size="4.8">6</tspan></text><line x1="477.65" y1="355.4" x2="477.65" y2="357.9" stroke="#6e6e6e" stroke-width="0.8"/><text x="477.55" y="366" font-size="8.2" text-anchor="middle">10<tspan dy="-3.7" font-size="4.8">8</tspan></text><line x1="496.1" y1="355.4" x2="496.1" y2="357.9" stroke="#6e6e6e" stroke-width="0.8"/><text x="496" y="366" font-size="8.2" text-anchor="middle">10<tspan dy="-3.7" font-size="4.8">10</tspan></text><line x1="406.5" y1="352.6" x2="409.5" y2="352.6" stroke="#6e6e6e" stroke-width="0.8"/><text transform="translate(402.8,352.8) rotate(-90) scale(1.12,1)" font-size="8.2" text-anchor="middle">0.0</text><line x1="406.5" y1="343" x2="409.5" y2="343" stroke="#6e6e6e" stroke-width="0.8"/><line x1="406.5" y1="333.4" x2="409.5" y2="333.4" stroke="#6e6e6e" stroke-width="0.8"/><text transform="translate(402.8,333.6) rotate(-90) scale(1.12,1)" font-size="8.2" text-anchor="middle">0.4</text><line x1="406.5" y1="323.8" x2="409.5" y2="323.8" stroke="#6e6e6e" stroke-width="0.8"/><line x1="406.5" y1="314.2" x2="409.5" y2="314.2" stroke="#6e6e6e" stroke-width="0.8"/><text transform="translate(402.8,314.4) rotate(-90) scale(1.12,1)" font-size="8.2" text-anchor="middle">0.8</text><line x1="406.5" y1="304.6" x2="409.5" y2="304.6" stroke="#6e6e6e" stroke-width="0.8"/><line x1="406.5" y1="295" x2="409.5" y2="295" stroke="#6e6e6e" stroke-width="0.8"/><text transform="translate(402.8,295.2) rotate(-90) scale(1.12,1)" font-size="8.2" text-anchor="middle">1.2</text><line x1="406.5" y1="285.4" x2="409.5" y2="285.4" stroke="#6e6e6e" stroke-width="0.8"/><text transform="translate(414,275) scale(1.0,1)" font-size="12.3" text-anchor="start"><tspan class="ser" font-size="12.8">s</tspan><tspan dx="0.9"> </tspan>= 0.005, <tspan class="it">μ</tspan><tspan class="it" font-size="8.2" dy="2.2">d</tspan><tspan dy="-2.2"> = 10</tspan><tspan font-size="7.6" dy="-4.4" dx="1">-5</tspan></text><text x="416.8" y="273.7" font-size="9" text-anchor="middle" class="mac">¯</text><text transform="translate(490.4,298.2) scale(1.07,1)" font-size="10.3" text-anchor="end" word-spacing="-0.5" style="stroke-width:0.4px"><tspan class="it">n</tspan> = 100</text><text x="454.5" y="385" font-size="10.8" text-anchor="middle">Subclone size</text><text x="454.5" y="397" font-size="10.8" text-anchor="middle">(number of cells)</text></g>
</svg></body></html>
